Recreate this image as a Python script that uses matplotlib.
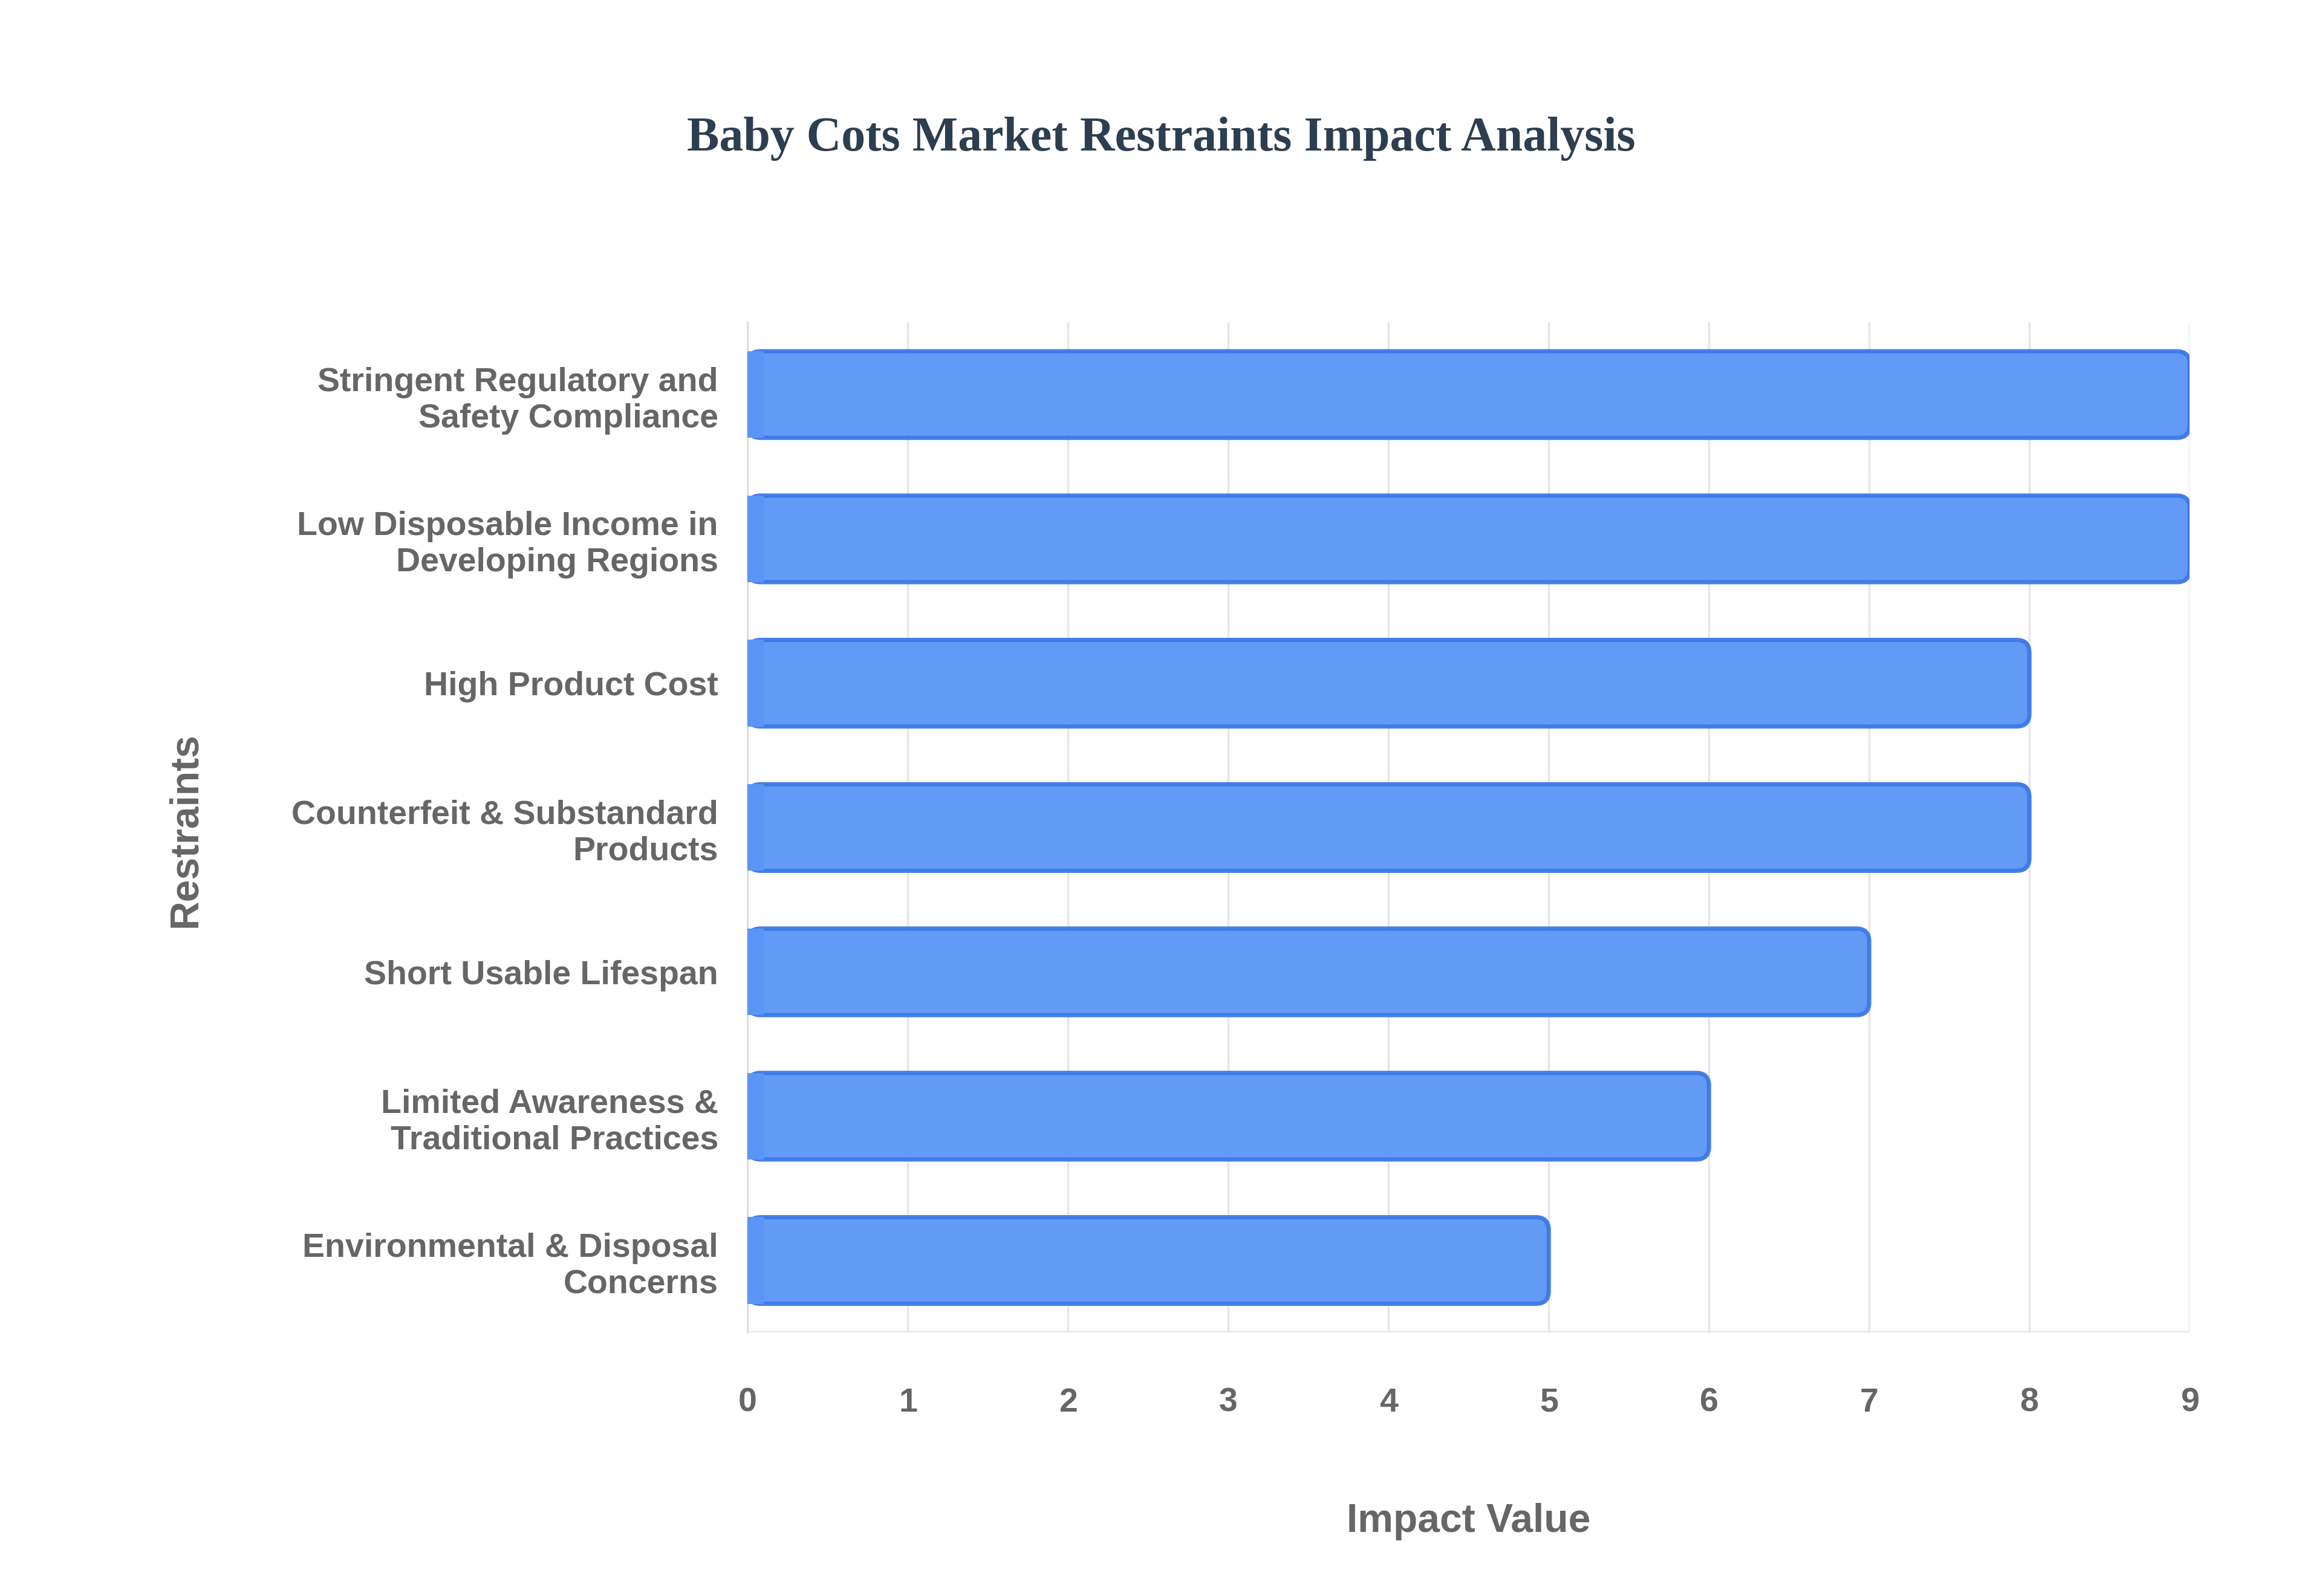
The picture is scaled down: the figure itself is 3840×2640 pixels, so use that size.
import matplotlib.pyplot as plt
from matplotlib.patches import FancyBboxPatch

restraints = ['Stringent Regulatory and\nSafety Compliance',
              'Low Disposable Income in\nDeveloping Regions',
              'High Product Cost',
              'Counterfeit & Substandard\nProducts',
              'Short Usable Lifespan',
              'Limited Awareness &\nTraditional Practices',
              'Environmental & Disposal\nConcerns']
impact = [9, 9, 8, 8, 7, 6, 5]

fig = plt.figure(figsize=(15.36, 10.56), dpi=250)
ax = fig.add_axes([0.322, 0.165, 0.621, 0.633])

h = 0.6
for i, v in enumerate(impact):
    y = len(impact) - 1 - i
    p = FancyBboxPatch((0, y - h / 2), v, h, boxstyle='round,pad=0,rounding_size=0.08',
                       mutation_aspect=1 / 0.9 * 0.6 / 0.6 * 1.0,
                       facecolor='#5b95f5', edgecolor='#3b78e7', linewidth=2, alpha=0.95, zorder=3)
    ax.add_patch(p)
    ax.add_patch(plt.Rectangle((0, y - h / 2), 0.1, h, facecolor='#5b95f5', edgecolor='none', zorder=4))

ax.set_xlim(0, 9)
ax.set_ylim(-0.5, len(impact) - 0.5)
ax.set_xticks(range(10))
ax.set_yticks(range(len(impact)))
ax.set_yticklabels(restraints[::-1])
ax.grid(axis='x', color='#e6e6e6', linewidth=1, zorder=0)
for s in ['top', 'right', 'bottom']:
    ax.spines[s].set_visible(False)
ax.spines['left'].set_color('#dddddd')
ax.axhline(-0.5, color='#e6e6e6', linewidth=1.5)
ax.tick_params(length=0, pad=14, colors='#666666')
for lab in ax.get_xticklabels() + ax.get_yticklabels():
    lab.set_fontfamily('Liberation Sans')
    lab.set_fontweight('bold')
    lab.set_fontsize(16)
    lab.set_color('#666666')
ax.tick_params(axis='x', pad=26)
ax.set_xlabel('Impact Value', fontfamily='Liberation Sans', fontweight='bold', fontsize=19,
              color='#666666', labelpad=40)
fig.text(0.08, 0.48, 'Restraints', rotation=90, fontfamily='Liberation Sans', fontweight='bold',
         fontsize=19, color='#666666', ha='center', va='center')
fig.text(0.5, 0.913, 'Baby Cots Market Restraints Impact Analysis', fontfamily='Liberation Serif',
         fontweight='bold', fontsize=23, color='#2c3e50', ha='center', va='center')

fig.savefig('out.png', dpi=250, facecolor='white')
